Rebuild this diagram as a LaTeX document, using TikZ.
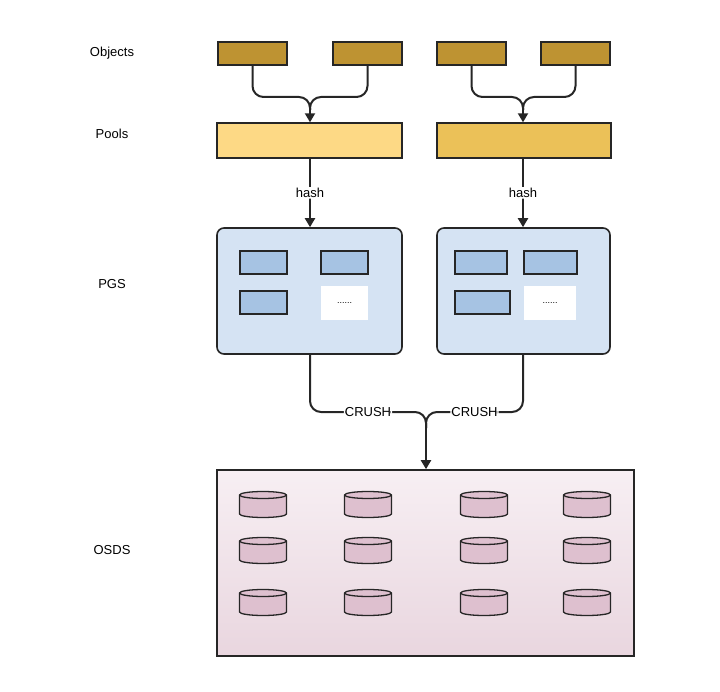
\documentclass[tikz,border=0pt]{standalone}
\usepackage{fontspec}
\setmainfont{Liberation Sans}
\usepackage{tikz}
\usetikzlibrary{positioning,shapes.geometric,arrows.meta}
\definecolor{objGold}{HTML}{BE9332}
\definecolor{poolA}{HTML}{FDD985}
\definecolor{poolB}{HTML}{EBC158}
\definecolor{pgFill}{HTML}{D5E3F3}
\definecolor{pgInner}{HTML}{A6C3E3}
\definecolor{osdTop}{HTML}{F7EFF3}
\definecolor{osdBot}{HTML}{E9D6DF}
\definecolor{diskFill}{HTML}{DEC0CF}
\begin{document}
\begin{tikzpicture}[x=1pt,y=-1pt,
    lbl/.style={font=\fontsize{13}{15}\selectfont},
    objbox/.style={draw=black!85,line width=1.4pt,fill=objGold,minimum width=69pt,minimum height=23pt,inner sep=0},
    poolbox/.style={draw=black!85,line width=1.4pt,minimum height=35pt,inner sep=0},
    pgbox/.style={draw=black!85,line width=1.6pt,fill=pgFill,rounded corners=7pt,minimum height=126pt,inner sep=0},
    pgslot/.style={draw=black!85,line width=1.6pt,fill=pgInner,minimum height=23pt,inner sep=0},
    disk/.pic={
      \draw[draw=black!85,line width=1.3pt,fill=diskFill]
        (-23.5,-9) -- (-23.5,10) arc[start angle=180,end angle=360,x radius=23.5,y radius=-3.5]
        -- (23.5,-9) arc[start angle=0,end angle=180,x radius=23.5,y radius=-3.5] -- cycle;
      \draw[draw=black!85,line width=1.3pt] (-23.5,-9) arc[start angle=180,end angle=360,x radius=23.5,y radius=-3.5];
    },
    wire/.style={line width=2pt,draw=black!85,rounded corners=11pt},
    arr/.style={-{Triangle[length=9pt,width=10pt]}}]
  \useasboundingbox (0,0) rectangle (720,692);

  % row labels
  \node[lbl] (lObj) at (112,53) {Objects};
  \node[lbl] (lPool) at (112,134) {Pools};
  \node[lbl] (lPg) at (112,284) {PGS};
  \node[lbl] (lOsd) at (112,550) {OSDS};

  % objects and pools
  \node[objbox] (o1) at (252.5,53.5) {};
  \node[objbox] (o2) at (367.5,53.5) {};
  \node[objbox] (o3) at (471.5,53.5) {};
  \node[objbox] (o4) at (575.5,53.5) {};
  \node[poolbox,fill=poolA,minimum width=185pt] (p1) at (309.5,140.5) {};
  \node[poolbox,fill=poolB,minimum width=174pt] (p2) at (524,140.5) {};
  \coordinate (m1) at (310,97);
  \coordinate (m1d) at (310,110);
  \coordinate (m2) at (523,97);
  \coordinate (m2d) at (523,110);
  \draw[wire] (o1.south) |- (m1) -- (m1d);
  \draw[wire] (o2.south) |- (m1) -- (m1d);
  \draw[wire,arr] (m1d) -- (p1.north -| m1);
  \draw[wire] (o3.south) |- (m2) -- (m2d);
  \draw[wire] (o4.south) |- (m2) -- (m2d);
  \draw[wire,arr] (m2d) -- (p2.north -| m2);

  % placement groups
  \node[pgbox,minimum width=185pt] (g1) at (309.5,291) {};
  \node[pgbox,minimum width=173pt] (g2) at (523.5,291) {};
  \node[pgslot,minimum width=47pt] (s11) at (263.5,262.5) {};
  \node[pgslot,minimum width=47pt] (s12) at (344.5,262.5) {};
  \node[pgslot,minimum width=47pt] (s13) at (263.5,302.5) {};
  \node[fill=white,minimum width=47pt,minimum height=34pt,inner sep=0,font=\small] (s14) at (344.5,303) {......};
  \node[pgslot,minimum width=52pt] (s21) at (481,262.5) {};
  \node[pgslot,minimum width=53pt] (s22) at (550.5,262.5) {};
  \node[pgslot,minimum width=55pt] (s23) at (482.5,302.5) {};
  \node[fill=white,minimum width=52pt,minimum height=34pt,inner sep=0,font=\small] (s24) at (550,303) {......};
  \draw[wire,arr] (p1.south -| m1) -- node[lbl,fill=white,inner sep=1pt] {hash} (g1.north -| m1);
  \draw[wire,arr] (p2.south -| m2) -- node[lbl,fill=white,inner sep=1pt] {hash} (g2.north -| m2);

  % OSDs
  \node[draw=black!85,line width=1.6pt,top color=osdTop,bottom color=osdBot,minimum width=417pt,minimum height=186pt,inner sep=0] (osd) at (425.5,563) {};
  \foreach \cx in {263,368,484,587}
    \foreach \cy in {504,550,602}
      \pic at (\cx,\cy) {disk};

  % crush mapping
  \coordinate (mc) at (426,412);
  \coordinate (mcd) at (426,428);
  \draw[wire] (g1.south -| m1) |- node[pos=0.75,lbl,fill=white,inner sep=1pt] {CRUSH} (mc) -- (mcd);
  \draw[wire] (g2.south -| m2) |- node[pos=0.75,lbl,fill=white,inner sep=1pt] {CRUSH} (mc) -- (mcd);
  \draw[wire,arr] (mcd) -- (osd.north -| mc);
\end{tikzpicture}
\end{document}
